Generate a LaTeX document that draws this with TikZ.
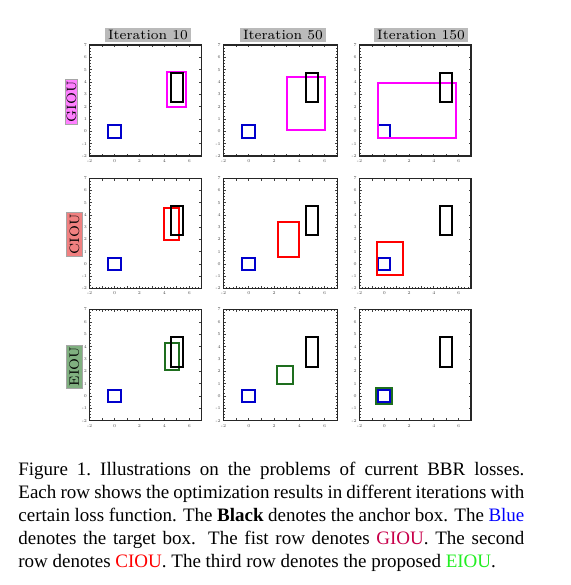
\documentclass[tikz,border=0pt]{standalone}
\usepackage{fontspec}
\newfontfamily\capfont{Liberation Serif}
\definecolor{giouc}{HTML}{FF00FF}
\definecolor{ciouc}{HTML}{FF0000}
\definecolor{eiouc}{HTML}{1E6E1E}
\definecolor{tgtc}{HTML}{0000CC}
\definecolor{giouf}{HTML}{FF80FF}
\definecolor{ciouf}{HTML}{F08080}
\definecolor{eiouf}{HTML}{80B080}
\definecolor{capgiou}{HTML}{C8004A}
\definecolor{capeiou}{HTML}{22EE22}
\newcommand\drawpanel[6]{%
 \begin{scope}[shift={({#2+2*(#4-#2)/9},{#5-2*(#5-#3)/9})}, xscale={(#4-#2)/9}, yscale={-(#5-#3)/9}]
  \foreach \t in {-2,-1.75,...,7.1} {
    \draw[tick] (\t,-2) -- ++(0,0.09);
    \draw[tick] (\t,7) -- ++(0,-0.09);
    \draw[tick] (-2,\t) -- ++(0.09,0);
    \draw[tick] (7,\t) -- ++(-0.09,0);
  }
  \foreach \t in {-2,...,7} {
    \draw[tick] (\t,-2) -- ++(0,0.2);
    \draw[tick] (\t,7) -- ++(0,-0.2);
    \draw[tick] (-2,\t) -- ++(0.2,0);
    \draw[tick] (7,\t) -- ++(-0.2,0);
  }
  \draw[frame] (-2,-2) rectangle (7,7);
  \foreach \t [count=\i] in {-2,...,7} \node[ticklab,anchor=east] (y#1n\i) at (-2.15,\t) {\t};
  \foreach \t [count=\i] in {-2,0,2,4,6} \node[ticklab,anchor=north] (x#1n\i) at (\t,-2.2) {\t};
  \draw[tgt] (-0.5,-0.5) rectangle (0.5,0.5);
  #6
  \draw[anchorbox] (4.5,2.35) rectangle (5.5,4.75);
 \end{scope}}
\begin{document}
\begin{tikzpicture}[x=0.5pt,y=-0.5pt,
  tick/.style={line width=0.35pt,black!75},
  frame/.style={line width=0.7pt,black!85},
  ticklab/.style={font=\fontsize{2.2}{2.4}\selectfont,inner sep=0.3pt,text=black!70},
  tgt/.style={draw=tgtc,line width=1pt},
  anchorbox/.style={draw=black,line width=1pt},
  gbox/.style={draw=giouc,line width=1pt},
  cbox/.style={draw=ciouc,line width=1pt},
  ebox/.style={draw=eiouc,line width=1pt},
  header/.style={fill=black!27,inner xsep=1.6pt,inner ysep=1.3pt,font=\fontsize{6.8}{7}\selectfont},
  rowlab/.style={rotate=90,inner xsep=1pt,inner ysep=1.4pt,font=\fontsize{6.8}{7}\selectfont,draw=black!35,line width=0.3pt},
  caption/.style={inner sep=0pt,text width=253pt,align=justify,font=\capfont\fontsize{9.5}{11.5}\selectfont}]
\useasboundingbox (0,0) rectangle (570,585);

\node[header] (h1) at (148,35) {Iteration 10};
\node[header] (h2) at (283,35) {Iteration 50};
\node[header] (h3) at (421,35) {Iteration 150};

\node[rowlab,fill=giouf,inner ysep=0.6pt] (r1) at (71.5,102) {GIOU};
\node[rowlab,fill=ciouf] (r2) at (74.5,234.5) {CIOU};
\node[rowlab,fill=eiouf] (r3) at (74.3,366.7) {EIOU};

\drawpanel{a}{89.7}{45}{201.7}{156}{\draw[gbox] (4.25,1.95) rectangle (5.75,4.8);}
\drawpanel{b}{223.5}{45}{337.3}{156}{\draw[gbox] (3,0.1) rectangle (6,4.4);}
\drawpanel{c}{359.5}{45}{471}{156}{\draw[gbox] (-0.5,-0.5) rectangle (5.8,3.9);}

\drawpanel{d}{89.7}{178.3}{201.7}{288.3}{\draw[cbox] (4,1.95) rectangle (5.2,4.55);}
\drawpanel{e}{223.5}{178.3}{337.3}{288.3}{\draw[cbox] (2.3,0.55) rectangle (3.95,3.45);}
\drawpanel{f}{359.5}{178.3}{471}{288.3}{\draw[cbox] (-0.55,-0.95) rectangle (1.5,1.75);}

\drawpanel{g}{89.7}{309.5}{201.7}{420.7}{\draw[ebox] (4.05,2.1) rectangle (5.15,4.25);}
\drawpanel{h}{223.5}{309.5}{337.3}{420.7}{\draw[ebox] (2.25,1.0) rectangle (3.5,2.4);}
\drawpanel{i}{359.5}{309.5}{471}{420.7}{\draw[ebox,line width=1.6pt] (-0.58,-0.58) rectangle (0.58,0.58); \draw[tgt] (-0.5,-0.5) rectangle (0.5,0.5);}

\node[caption,anchor=north west] (cap) at (18,462) {\tolerance=10000\hyphenpenalty=10000 Figure 1.\ Illustrations on the problems of current BBR losses.\linebreak
Each row shows the optimization results in different iterations with\linebreak
certain loss function. The \textbf{Black} denotes the anchor box. The \textcolor{blue}{Blue}\linebreak
denotes the target box.  The fist row denotes \textcolor{capgiou}{GIOU}. The second\linebreak
row denotes \textcolor{ciouc}{CIOU}. The third row denotes the proposed \textcolor{capeiou}{EIOU}.};
\end{tikzpicture}
\end{document}
